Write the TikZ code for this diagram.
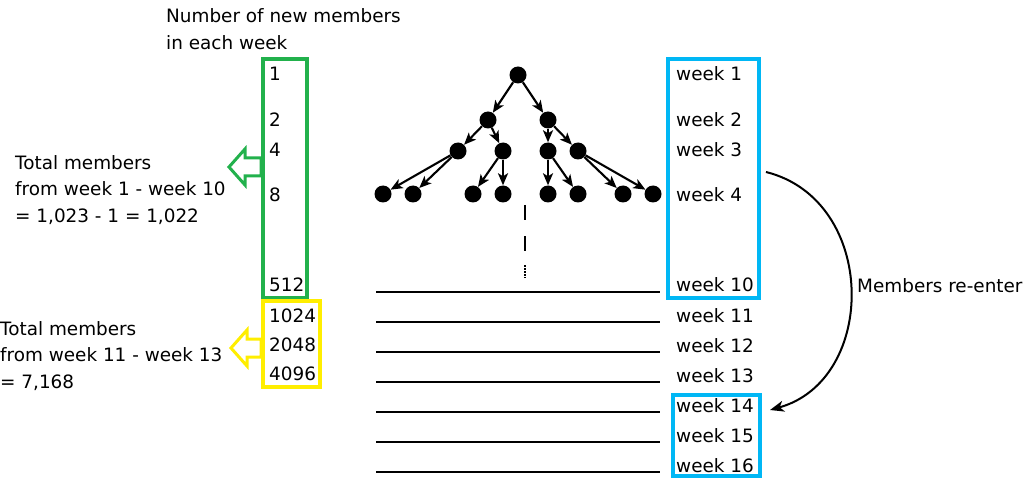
\documentclass[tikz,border=0pt]{standalone}
\usepackage{fontspec}
\setmainfont{DejaVu Sans}
\usetikzlibrary{arrows.meta}
\definecolor{boxgreen}{RGB}{34,177,76}
\definecolor{boxyellow}{RGB}{255,238,0}
\definecolor{boxblue}{RGB}{0,183,245}
\begin{document}
\begin{tikzpicture}
		[x=1pt,y=-1pt,dot/.style={circle,fill=black,minimum size=17pt,inner sep=0pt},
		lbl/.style={anchor=west,inner sep=0pt,align=left,font=\fontsize{18.4}{26.5}\selectfont},
		growarrow/.style={-{Stealth[length=12pt,width=10pt,inset=3pt]},line width=2.1pt}]
		\useasboundingbox (0,0) rectangle (1024,478);
		%\fill[white] (0,0) rectangle (1024,478);
		\node[lbl] (title) at (166,29) {Number of new members\\in each week};
		\node[lbl] (tot1) at (15,190) {Total members\\from week 1 - week 10\\= 1,023 - 1 = 1,022};
		\node[lbl] (tot2) at (0,356) {Total members\\from week 11 - week 13\\= 7,168};
		% counts
		\foreach \n/\y in {1/74,2/120,4/150,8/195,512/285,1024/316,2048/345,4096/374}
		\node[lbl] (c\n) at (269,\y) {\n};
		\draw[boxgreen,line width=3.2pt] (263,59) rectangle (307,298);
		\draw[boxyellow,line width=3.2pt] (263,301) rectangle (320,387);
		% hollow arrows
		\draw[boxgreen,line width=3pt,fill=white] (261,158) -- (245,158) -- (245,149) -- (229,167) -- (245,185) -- (245,176) -- (261,176) -- cycle;
		\draw[boxyellow,line width=3pt,fill=white] (261,339) -- (247,339) -- (247,330) -- (231,348) -- (247,366) -- (247,357) -- (261,357) -- cycle;
		% tree
		\node[dot] (n1) at (518,75) {};
		\node[dot] (n2) at (488,120) {};
		\node[dot] (n3) at (548,120) {};
		\node[dot] (n4) at (458,151) {};
		\node[dot] (n5) at (503,151) {};
		\node[dot] (n6) at (548,151) {};
		\node[dot] (n7) at (578,151) {};
		\node[dot] (n8) at (383,194) {};
		\node[dot] (n9) at (413,194) {};
		\node[dot] (n10) at (473,194) {};
		\node[dot] (n11) at (503,194) {};
		\node[dot] (n12) at (548,194) {};
		\node[dot] (n13) at (578,194) {};
		\node[dot] (n14) at (623,194) {};
		\node[dot] (n15) at (653,194) {};
		\foreach \from/\to in {n1/n2,n1/n3,n2/n4,n2/n5,n3/n6,n3/n7,n4/n8,n4/n9,n5/n10,n5/n11,n6/n12,n6/n13,n7/n14,n7/n15}
		\draw[growarrow]  (\from) -- (\to);
		\draw[line width=2pt,dash pattern=on 15pt off 16pt] (525,205) -- (525,251);
		\draw[line width=2pt,dash pattern=on 1.5pt off 1.5pt] (525,265) -- (525,278);
		\foreach \y in {292,322,352,382,412,442,472}
		\draw[line width=1.5pt] (376,\y) -- (660,\y);
		% weeks
		\foreach \w/\y in {1/74,2/120,3/150,4/195,10/285,11/316,12/346,13/376,14/406,15/436,16/466}
		\node[lbl] (w\w) at (676,\y) {week \w};
		\draw[boxblue,line width=3.2pt] (668,59) rectangle (759,298);
		\draw[boxblue,line width=3.2pt] (673,395) rectangle (760,476);
		\coordinate (out) at (766,172);
		\coordinate (back) at (770,410);
		\draw[-{Stealth[length=14pt,width=11pt,inset=4pt]},line width=2pt] (out) .. controls (878,200) and (878,380) .. (back);
		\node[lbl] (reenter) at (857,286) {Members re-enter};
	\end{tikzpicture}
\end{document}
